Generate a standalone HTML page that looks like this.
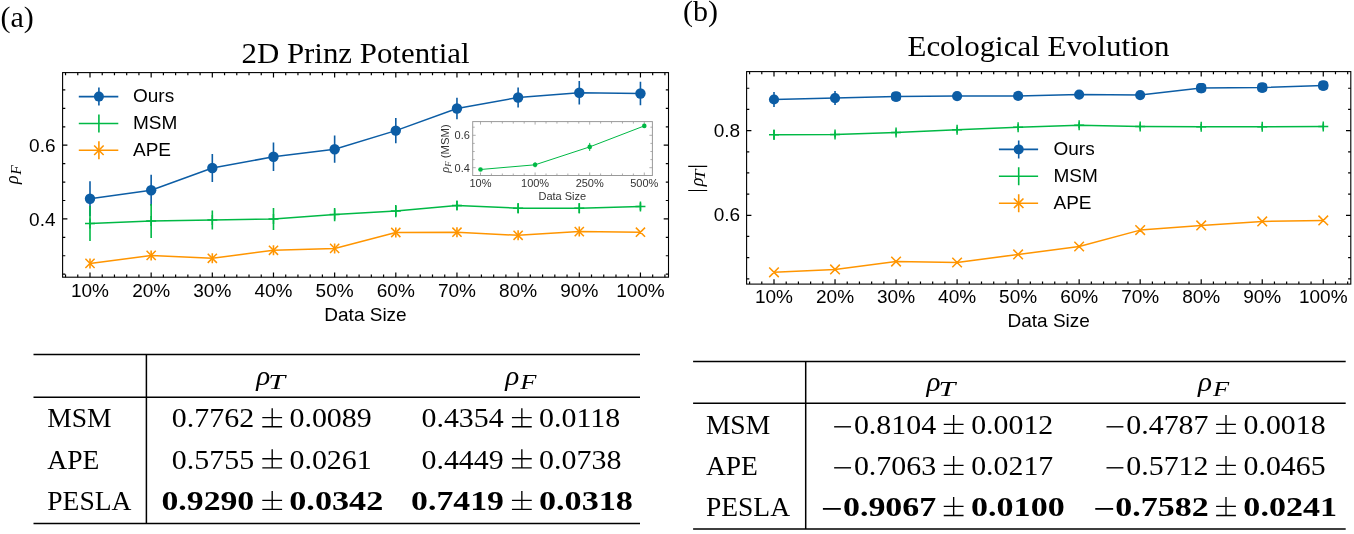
<!DOCTYPE html>
<html><head><meta charset="utf-8"><style>
html,body{margin:0;padding:0;background:#fff;width:1354px;height:534px;overflow:hidden}
svg{display:block;will-change:transform}
</style></head><body>
<svg width="1354" height="534" viewBox="0 0 1354 534">
<rect x="62.6" y="72.6" width="605.9" height="204.6" fill="none" stroke="#000" stroke-width="1.1"/>
<path d="M90 277.2v-4.8M90 72.6v4.8M151.16 277.2v-4.8M151.16 72.6v4.8M212.32 277.2v-4.8M212.32 72.6v4.8M273.48 277.2v-4.8M273.48 72.6v4.8M334.64 277.2v-4.8M334.64 72.6v4.8M395.8 277.2v-4.8M395.8 72.6v4.8M456.96 277.2v-4.8M456.96 72.6v4.8M518.12 277.2v-4.8M518.12 72.6v4.8M579.28 277.2v-4.8M579.28 72.6v4.8M640.44 277.2v-4.8M640.44 72.6v4.8M65.54 277.2v-2.7M65.54 72.6v2.7M77.77 277.2v-2.7M77.77 72.6v2.7M102.23 277.2v-2.7M102.23 72.6v2.7M114.46 277.2v-2.7M114.46 72.6v2.7M126.7 277.2v-2.7M126.7 72.6v2.7M138.93 277.2v-2.7M138.93 72.6v2.7M163.39 277.2v-2.7M163.39 72.6v2.7M175.62 277.2v-2.7M175.62 72.6v2.7M187.86 277.2v-2.7M187.86 72.6v2.7M200.09 277.2v-2.7M200.09 72.6v2.7M224.55 277.2v-2.7M224.55 72.6v2.7M236.78 277.2v-2.7M236.78 72.6v2.7M249.02 277.2v-2.7M249.02 72.6v2.7M261.25 277.2v-2.7M261.25 72.6v2.7M285.71 277.2v-2.7M285.71 72.6v2.7M297.94 277.2v-2.7M297.94 72.6v2.7M310.18 277.2v-2.7M310.18 72.6v2.7M322.41 277.2v-2.7M322.41 72.6v2.7M346.87 277.2v-2.7M346.87 72.6v2.7M359.1 277.2v-2.7M359.1 72.6v2.7M371.34 277.2v-2.7M371.34 72.6v2.7M383.57 277.2v-2.7M383.57 72.6v2.7M408.03 277.2v-2.7M408.03 72.6v2.7M420.26 277.2v-2.7M420.26 72.6v2.7M432.5 277.2v-2.7M432.5 72.6v2.7M444.73 277.2v-2.7M444.73 72.6v2.7M469.19 277.2v-2.7M469.19 72.6v2.7M481.42 277.2v-2.7M481.42 72.6v2.7M493.66 277.2v-2.7M493.66 72.6v2.7M505.89 277.2v-2.7M505.89 72.6v2.7M530.35 277.2v-2.7M530.35 72.6v2.7M542.58 277.2v-2.7M542.58 72.6v2.7M554.82 277.2v-2.7M554.82 72.6v2.7M567.05 277.2v-2.7M567.05 72.6v2.7M591.51 277.2v-2.7M591.51 72.6v2.7M603.74 277.2v-2.7M603.74 72.6v2.7M615.98 277.2v-2.7M615.98 72.6v2.7M628.21 277.2v-2.7M628.21 72.6v2.7M652.67 277.2v-2.7M652.67 72.6v2.7M664.9 277.2v-2.7M664.9 72.6v2.7M62.6 218.9h4.8M668.5 218.9h-4.8M62.6 145.2h4.8M668.5 145.2h-4.8M62.6 274.18h2.7M668.5 274.18h-2.7M62.6 255.75h2.7M668.5 255.75h-2.7M62.6 237.33h2.7M668.5 237.33h-2.7M62.6 200.48h2.7M668.5 200.48h-2.7M62.6 182.05h2.7M668.5 182.05h-2.7M62.6 163.62h2.7M668.5 163.62h-2.7M62.6 126.78h2.7M668.5 126.78h-2.7M62.6 108.35h2.7M668.5 108.35h-2.7M62.6 89.93h2.7M668.5 89.93h-2.7" stroke="#000" stroke-width="1.2" fill="none"/>
<polyline points="90,198.7 151.16,190.2 212.32,168 273.48,156.8 334.64,149.2 395.8,130.6 456.96,108.5 518.12,97.5 579.28,92.8 640.44,93.5" fill="none" stroke="#0C5DA5" stroke-width="1.5" stroke-linejoin="round"/>
<path d="M90 181.3V216.1M151.16 174.7V205.7M212.32 154V182M273.48 142.6V171M334.64 135.6V162.8M395.8 117.9V143.3M456.96 97.7V119.3M518.12 87.5V107.5M579.28 81V104.6M640.44 81.7V105.3" stroke="#0C5DA5" stroke-width="1.6" fill="none"/>
<circle cx="90" cy="198.7" r="5.2" fill="#0C5DA5"/>
<circle cx="151.16" cy="190.2" r="5.2" fill="#0C5DA5"/>
<circle cx="212.32" cy="168" r="5.2" fill="#0C5DA5"/>
<circle cx="273.48" cy="156.8" r="5.2" fill="#0C5DA5"/>
<circle cx="334.64" cy="149.2" r="5.2" fill="#0C5DA5"/>
<circle cx="395.8" cy="130.6" r="5.2" fill="#0C5DA5"/>
<circle cx="456.96" cy="108.5" r="5.2" fill="#0C5DA5"/>
<circle cx="518.12" cy="97.5" r="5.2" fill="#0C5DA5"/>
<circle cx="579.28" cy="92.8" r="5.2" fill="#0C5DA5"/>
<circle cx="640.44" cy="93.5" r="5.2" fill="#0C5DA5"/>
<polyline points="90,223.4 151.16,221 212.32,220 273.48,218.9 334.64,214.6 395.8,211.1 456.96,205.6 518.12,208.2 579.28,208.2 640.44,206.5" fill="none" stroke="#00B945" stroke-width="1.5" stroke-linejoin="round"/>
<path d="M90 205.9V240.9M151.16 204V238M212.32 210.5V229.5M273.48 207.9V229.9M334.64 208V221.2M395.8 204.9V217.3M456.96 201.1V210.1M518.12 203.2V213.2M579.28 203.2V213.2M640.44 202.8V210.2" stroke="#00B945" stroke-width="1.6" fill="none"/>
<path d="M85 223.4h10M90 218.4v10M146.16 221h10M151.16 216v10M207.32 220h10M212.32 215v10M268.48 218.9h10M273.48 213.9v10M329.64 214.6h10M334.64 209.6v10M390.8 211.1h10M395.8 206.1v10M451.96 205.6h10M456.96 200.6v10M513.12 208.2h10M518.12 203.2v10M574.28 208.2h10M579.28 203.2v10M635.44 206.5h10M640.44 201.5v10" stroke="#00B945" stroke-width="1.5" fill="none"/>
<polyline points="90,263.4 151.16,255.4 212.32,258.3 273.48,250.3 334.64,248.4 395.8,232.5 456.96,232.2 518.12,235.3 579.28,231.6 640.44,232.2" fill="none" stroke="#FF9500" stroke-width="1.5" stroke-linejoin="round"/>
<path d="M90 258.4V268.4M151.16 250.4V260.4M212.32 253.3V263.3M273.48 245.3V255.3M334.64 243.4V253.4M395.8 227.5V237.5M456.96 227.2V237.2M518.12 230.3V240.3M579.28 226.6V236.6" stroke="#FF9500" stroke-width="1.6" fill="none"/>
<path d="M85.4 258.8L94.6 268M85.4 268L94.6 258.8M146.56 250.8L155.76 260M146.56 260L155.76 250.8M207.72 253.7L216.92 262.9M207.72 262.9L216.92 253.7M268.88 245.7L278.08 254.9M268.88 254.9L278.08 245.7M330.04 243.8L339.24 253M330.04 253L339.24 243.8M391.2 227.9L400.4 237.1M391.2 237.1L400.4 227.9M452.36 227.6L461.56 236.8M452.36 236.8L461.56 227.6M513.52 230.7L522.72 239.9M513.52 239.9L522.72 230.7M574.68 227L583.88 236.2M574.68 236.2L583.88 227M635.84 227.6L645.04 236.8M635.84 236.8L645.04 227.6" stroke="#FF9500" stroke-width="1.5" fill="none"/>
<text x="90" y="297.4" text-anchor="middle" font-family='"Liberation Sans", sans-serif' font-size="19">10%</text>
<text x="151.16" y="297.4" text-anchor="middle" font-family='"Liberation Sans", sans-serif' font-size="19">20%</text>
<text x="212.32" y="297.4" text-anchor="middle" font-family='"Liberation Sans", sans-serif' font-size="19">30%</text>
<text x="273.48" y="297.4" text-anchor="middle" font-family='"Liberation Sans", sans-serif' font-size="19">40%</text>
<text x="334.64" y="297.4" text-anchor="middle" font-family='"Liberation Sans", sans-serif' font-size="19">50%</text>
<text x="395.8" y="297.4" text-anchor="middle" font-family='"Liberation Sans", sans-serif' font-size="19">60%</text>
<text x="456.96" y="297.4" text-anchor="middle" font-family='"Liberation Sans", sans-serif' font-size="19">70%</text>
<text x="518.12" y="297.4" text-anchor="middle" font-family='"Liberation Sans", sans-serif' font-size="19">80%</text>
<text x="579.28" y="297.4" text-anchor="middle" font-family='"Liberation Sans", sans-serif' font-size="19">90%</text>
<text x="640.44" y="297.4" text-anchor="middle" font-family='"Liberation Sans", sans-serif' font-size="19">100%</text>
<text x="55.5" y="152.2" text-anchor="end" font-family='"Liberation Sans", sans-serif' font-size="19">0.6</text>
<text x="55.5" y="225.9" text-anchor="end" font-family='"Liberation Sans", sans-serif' font-size="19">0.4</text>
<text x="365.5" y="320.8" text-anchor="middle" font-family='"Liberation Sans", sans-serif' font-size="19">Data Size</text>
<text transform="translate(17.6,184) rotate(-90)" font-family='"Liberation Serif", serif' font-style="italic" font-size="18">ρ</text>
<text transform="translate(21.1,174.8) rotate(-90)" font-family='"Liberation Serif", serif' font-style="italic" font-size="15.5">F</text>
<text x="241.5" y="62.9" textLength="228" lengthAdjust="spacingAndGlyphs" font-family='"Liberation Serif", serif' font-size="30">2D Prinz Potential</text>
<text x="0.5" y="26.5" font-family='"Liberation Serif", serif' font-size="30">(a)</text>
<path d="M78.8 96.6H118.3M98.9 87.6V105.6" stroke="#0C5DA5" stroke-width="1.6" fill="none"/>
<circle cx="98.9" cy="96.6" r="5.0" fill="#0C5DA5"/>
<text x="133" y="102.3" font-family='"Liberation Sans", sans-serif' font-size="19">Ours</text>
<path d="M78.8 123.5H118.3M98.9 114.5V132.5" stroke="#00B945" stroke-width="1.6" fill="none"/>
<text x="133" y="129.2" font-family='"Liberation Sans", sans-serif' font-size="19">MSM</text>
<path d="M78.8 150.2H118.3M98.9 141.2V159.2" stroke="#FF9500" stroke-width="1.6" fill="none"/>
<path d="M94.15 145.45L103.65 154.95M94.15 154.95L103.65 145.45" stroke="#FF9500" stroke-width="1.6" fill="none"/>
<text x="133" y="155.9" font-family='"Liberation Sans", sans-serif' font-size="19">APE</text>
<rect x="472.7" y="121.6" width="179.7" height="53.9" fill="#fff"/>
<rect x="472.7" y="121.6" width="179.7" height="53.9" fill="none" stroke="#999" stroke-width="1.0"/>
<path d="M480.5 175.5v-3M480.5 121.6v3M535.1 175.5v-3M535.1 121.6v3M589.7 175.5v-3M589.7 121.6v3M644.3 175.5v-3M644.3 121.6v3M491.42 175.5v-2M491.42 121.6v2M502.34 175.5v-2M502.34 121.6v2M513.26 175.5v-2M513.26 121.6v2M524.18 175.5v-2M524.18 121.6v2M546.02 175.5v-2M546.02 121.6v2M556.94 175.5v-2M556.94 121.6v2M567.86 175.5v-2M567.86 121.6v2M578.78 175.5v-2M578.78 121.6v2M600.62 175.5v-2M600.62 121.6v2M611.54 175.5v-2M611.54 121.6v2M622.46 175.5v-2M622.46 121.6v2M633.38 175.5v-2M633.38 121.6v2M472.7 167.7h3M652.4 167.7h-3M472.7 135.3h3M652.4 135.3h-3M472.7 159.6h2M652.4 159.6h-2M472.7 151.5h2M652.4 151.5h-2M472.7 143.4h2M652.4 143.4h-2M472.7 127.2h2M652.4 127.2h-2" stroke="#999" stroke-width="0.8" fill="none"/>
<polyline points="480.5,169.5 535.1,164.8 589.7,146.9 644.3,125.9" fill="none" stroke="#00B945" stroke-width="1.0" stroke-linejoin="round"/>
<path d="M535.1 162.3V167.3M589.7 142.9V150.9" stroke="#00B945" stroke-width="1.0" fill="none"/>
<circle cx="480.5" cy="169.5" r="2.3" fill="#00B945"/>
<circle cx="535.1" cy="164.8" r="2.3" fill="#00B945"/>
<circle cx="589.7" cy="146.9" r="2.3" fill="#00B945"/>
<circle cx="644.3" cy="125.9" r="2.3" fill="#00B945"/>
<text x="480.5" y="186.7" text-anchor="middle" font-family='"Liberation Sans", sans-serif' font-size="11" fill="#333">10%</text>
<text x="535.1" y="186.7" text-anchor="middle" font-family='"Liberation Sans", sans-serif' font-size="11" fill="#333">100%</text>
<text x="589.7" y="186.7" text-anchor="middle" font-family='"Liberation Sans", sans-serif' font-size="11" fill="#333">250%</text>
<text x="644.3" y="186.7" text-anchor="middle" font-family='"Liberation Sans", sans-serif' font-size="11" fill="#333">500%</text>
<text x="469.9" y="139.3" text-anchor="end" font-family='"Liberation Sans", sans-serif' font-size="11" fill="#333">0.6</text>
<text x="469.9" y="171.7" text-anchor="end" font-family='"Liberation Sans", sans-serif' font-size="11" fill="#333">0.4</text>
<text x="562.3" y="199.5" text-anchor="middle" font-family='"Liberation Sans", sans-serif' font-size="11" fill="#333">Data Size</text>
<g transform="translate(448.8,148.6) rotate(-90)"><text x="0" y="0" text-anchor="middle" font-family='"Liberation Sans", sans-serif' font-size="11.3" fill="#333"><tspan font-family='"Liberation Serif", serif' font-style="italic" font-size="12.5">ρ<tspan font-size="9" dy="2">F</tspan></tspan><tspan dy="-2"> (MSM)</tspan></text></g>
<rect x="746.6" y="71.6" width="604.2" height="212.5" fill="none" stroke="#000" stroke-width="1.1"/>
<path d="M774 284.1v-4.8M774 71.6v4.8M835.03 284.1v-4.8M835.03 71.6v4.8M896.06 284.1v-4.8M896.06 71.6v4.8M957.09 284.1v-4.8M957.09 71.6v4.8M1018.12 284.1v-4.8M1018.12 71.6v4.8M1079.15 284.1v-4.8M1079.15 71.6v4.8M1140.18 284.1v-4.8M1140.18 71.6v4.8M1201.21 284.1v-4.8M1201.21 71.6v4.8M1262.24 284.1v-4.8M1262.24 71.6v4.8M1323.27 284.1v-4.8M1323.27 71.6v4.8M749.59 284.1v-2.7M749.59 71.6v2.7M761.79 284.1v-2.7M761.79 71.6v2.7M786.21 284.1v-2.7M786.21 71.6v2.7M798.41 284.1v-2.7M798.41 71.6v2.7M810.62 284.1v-2.7M810.62 71.6v2.7M822.82 284.1v-2.7M822.82 71.6v2.7M847.24 284.1v-2.7M847.24 71.6v2.7M859.44 284.1v-2.7M859.44 71.6v2.7M871.65 284.1v-2.7M871.65 71.6v2.7M883.85 284.1v-2.7M883.85 71.6v2.7M908.27 284.1v-2.7M908.27 71.6v2.7M920.47 284.1v-2.7M920.47 71.6v2.7M932.68 284.1v-2.7M932.68 71.6v2.7M944.88 284.1v-2.7M944.88 71.6v2.7M969.3 284.1v-2.7M969.3 71.6v2.7M981.5 284.1v-2.7M981.5 71.6v2.7M993.71 284.1v-2.7M993.71 71.6v2.7M1005.91 284.1v-2.7M1005.91 71.6v2.7M1030.33 284.1v-2.7M1030.33 71.6v2.7M1042.53 284.1v-2.7M1042.53 71.6v2.7M1054.74 284.1v-2.7M1054.74 71.6v2.7M1066.94 284.1v-2.7M1066.94 71.6v2.7M1091.36 284.1v-2.7M1091.36 71.6v2.7M1103.56 284.1v-2.7M1103.56 71.6v2.7M1115.77 284.1v-2.7M1115.77 71.6v2.7M1127.97 284.1v-2.7M1127.97 71.6v2.7M1152.39 284.1v-2.7M1152.39 71.6v2.7M1164.59 284.1v-2.7M1164.59 71.6v2.7M1176.8 284.1v-2.7M1176.8 71.6v2.7M1189 284.1v-2.7M1189 71.6v2.7M1213.42 284.1v-2.7M1213.42 71.6v2.7M1225.62 284.1v-2.7M1225.62 71.6v2.7M1237.83 284.1v-2.7M1237.83 71.6v2.7M1250.03 284.1v-2.7M1250.03 71.6v2.7M1274.45 284.1v-2.7M1274.45 71.6v2.7M1286.65 284.1v-2.7M1286.65 71.6v2.7M1298.86 284.1v-2.7M1298.86 71.6v2.7M1311.06 284.1v-2.7M1311.06 71.6v2.7M1335.48 284.1v-2.7M1335.48 71.6v2.7M1347.68 284.1v-2.7M1347.68 71.6v2.7M746.6 215.3h4.8M1350.8 215.3h-4.8M746.6 130.6h4.8M1350.8 130.6h-4.8M746.6 278.82h2.7M1350.8 278.82h-2.7M746.6 257.65h2.7M1350.8 257.65h-2.7M746.6 236.47h2.7M1350.8 236.47h-2.7M746.6 194.12h2.7M1350.8 194.12h-2.7M746.6 172.95h2.7M1350.8 172.95h-2.7M746.6 151.78h2.7M1350.8 151.78h-2.7M746.6 109.43h2.7M1350.8 109.43h-2.7M746.6 88.25h2.7M1350.8 88.25h-2.7" stroke="#000" stroke-width="1.2" fill="none"/>
<polyline points="774,99.5 835.03,98.1 896.06,96.6 957.09,96.1 1018.12,95.9 1079.15,94.6 1140.18,95.1 1201.21,88.1 1262.24,87.6 1323.27,85.6" fill="none" stroke="#0C5DA5" stroke-width="1.5" stroke-linejoin="round"/>
<path d="M774 92V107M835.03 91.1V105.1M896.06 93.6V99.6M957.09 95.1V97.1M1018.12 94.9V96.9M1079.15 93.6V95.6M1140.18 94.1V96.1M1201.21 87.1V89.1M1262.24 86.6V88.6M1323.27 83.6V87.6" stroke="#0C5DA5" stroke-width="1.6" fill="none"/>
<circle cx="774" cy="99.5" r="5.1" fill="#0C5DA5"/>
<circle cx="835.03" cy="98.1" r="5.1" fill="#0C5DA5"/>
<circle cx="896.06" cy="96.6" r="5.1" fill="#0C5DA5"/>
<circle cx="957.09" cy="96.1" r="5.1" fill="#0C5DA5"/>
<circle cx="1018.12" cy="95.9" r="5.1" fill="#0C5DA5"/>
<circle cx="1079.15" cy="94.6" r="5.1" fill="#0C5DA5"/>
<circle cx="1140.18" cy="95.1" r="5.1" fill="#0C5DA5"/>
<circle cx="1201.21" cy="88.1" r="5.1" fill="#0C5DA5"/>
<circle cx="1262.24" cy="87.6" r="5.1" fill="#0C5DA5"/>
<circle cx="1323.27" cy="85.6" r="5.1" fill="#0C5DA5"/>
<polyline points="896.06,96.6" fill="none" stroke="#0C5DA5" stroke-width="1.5" stroke-linejoin="round"/>
<rect x="890.96" y="91.5" width="10.2" height="10.2" rx="4.1" fill="#0C5DA5"/>
<polyline points="1201.21,88.1" fill="none" stroke="#0C5DA5" stroke-width="1.5" stroke-linejoin="round"/>
<rect x="1196.11" y="83" width="10.2" height="10.2" rx="4.1" fill="#0C5DA5"/>
<polyline points="1262.24,87.6" fill="none" stroke="#0C5DA5" stroke-width="1.5" stroke-linejoin="round"/>
<rect x="1257.14" y="82.5" width="10.2" height="10.2" rx="4.1" fill="#0C5DA5"/>
<polyline points="1323.27,85.6" fill="none" stroke="#0C5DA5" stroke-width="1.5" stroke-linejoin="round"/>
<rect x="1318.17" y="80.5" width="10.2" height="10.2" rx="4.1" fill="#0C5DA5"/>
<polyline points="774,134.7 835.03,134.5 896.06,132.5 957.09,129.8 1018.12,127.2 1079.15,125.2 1140.18,126.5 1201.21,126.8 1262.24,126.8 1323.27,126.6" fill="none" stroke="#00B945" stroke-width="1.5" stroke-linejoin="round"/>
<path d="M774 129.7V139.7M835.03 131.5V137.5M896.06 129.5V135.5M957.09 126.8V132.8M1018.12 124.2V130.2M1079.15 122.2V128.2M1140.18 123.5V129.5M1201.21 123.8V129.8M1262.24 123.8V129.8M1323.27 123.6V129.6" stroke="#00B945" stroke-width="1.6" fill="none"/>
<path d="M769 134.7h10M774 129.7v10M830.03 134.5h10M835.03 129.5v10M891.06 132.5h10M896.06 127.5v10M952.09 129.8h10M957.09 124.8v10M1013.12 127.2h10M1018.12 122.2v10M1074.15 125.2h10M1079.15 120.2v10M1135.18 126.5h10M1140.18 121.5v10M1196.21 126.8h10M1201.21 121.8v10M1257.24 126.8h10M1262.24 121.8v10M1318.27 126.6h10M1323.27 121.6v10" stroke="#00B945" stroke-width="1.5" fill="none"/>
<polyline points="774,272.3 835.03,269.4 896.06,261.6 957.09,262.5 1018.12,254.4 1079.15,246.5 1140.18,230.1 1201.21,225.4 1262.24,221.4 1323.27,220.4" fill="none" stroke="#FF9500" stroke-width="1.5" stroke-linejoin="round"/>
<path d="M769.2 267.5L778.8 277.1M769.2 277.1L778.8 267.5M830.23 264.6L839.83 274.2M830.23 274.2L839.83 264.6M891.26 256.8L900.86 266.4M891.26 266.4L900.86 256.8M952.29 257.7L961.89 267.3M952.29 267.3L961.89 257.7M1013.32 249.6L1022.92 259.2M1013.32 259.2L1022.92 249.6M1074.35 241.7L1083.95 251.3M1074.35 251.3L1083.95 241.7M1135.38 225.3L1144.98 234.9M1135.38 234.9L1144.98 225.3M1196.41 220.6L1206.01 230.2M1196.41 230.2L1206.01 220.6M1257.44 216.6L1267.04 226.2M1257.44 226.2L1267.04 216.6M1318.47 215.6L1328.07 225.2M1318.47 225.2L1328.07 215.6" stroke="#FF9500" stroke-width="1.5" fill="none"/>
<text x="774" y="303.4" text-anchor="middle" font-family='"Liberation Sans", sans-serif' font-size="19">10%</text>
<text x="835.03" y="303.4" text-anchor="middle" font-family='"Liberation Sans", sans-serif' font-size="19">20%</text>
<text x="896.06" y="303.4" text-anchor="middle" font-family='"Liberation Sans", sans-serif' font-size="19">30%</text>
<text x="957.09" y="303.4" text-anchor="middle" font-family='"Liberation Sans", sans-serif' font-size="19">40%</text>
<text x="1018.12" y="303.4" text-anchor="middle" font-family='"Liberation Sans", sans-serif' font-size="19">50%</text>
<text x="1079.15" y="303.4" text-anchor="middle" font-family='"Liberation Sans", sans-serif' font-size="19">60%</text>
<text x="1140.18" y="303.4" text-anchor="middle" font-family='"Liberation Sans", sans-serif' font-size="19">70%</text>
<text x="1201.21" y="303.4" text-anchor="middle" font-family='"Liberation Sans", sans-serif' font-size="19">80%</text>
<text x="1262.24" y="303.4" text-anchor="middle" font-family='"Liberation Sans", sans-serif' font-size="19">90%</text>
<text x="1323.27" y="303.4" text-anchor="middle" font-family='"Liberation Sans", sans-serif' font-size="19">100%</text>
<text x="740.2" y="136.6" text-anchor="end" font-family='"Liberation Sans", sans-serif' font-size="19">0.8</text>
<text x="740.2" y="221.3" text-anchor="end" font-family='"Liberation Sans", sans-serif' font-size="19">0.6</text>
<text x="1048.7" y="326.8" text-anchor="middle" font-family='"Liberation Sans", sans-serif' font-size="19">Data Size</text>
<path d="M688.2 166.4H707.2M688.2 190.5H707.2" stroke="#000" stroke-width="1.2" fill="none"/>
<text transform="translate(702.7,186.3) rotate(-90)" font-family='"Liberation Serif", serif' font-style="italic" font-size="18">ρ</text>
<text transform="translate(705.3,179.9) rotate(-90) scale(1.25,1)" font-family='"Liberation Serif", serif' font-style="italic" font-size="15">T</text>
<text x="907.5" y="55.5" textLength="262" lengthAdjust="spacingAndGlyphs" font-family='"Liberation Serif", serif' font-size="30">Ecological Evolution</text>
<text x="683" y="21.3" font-family='"Liberation Serif", serif' font-size="30">(b)</text>
<path d="M998.9 149.4H1038.1M1018.7 140.4V158.4" stroke="#0C5DA5" stroke-width="1.6" fill="none"/>
<circle cx="1018.7" cy="149.4" r="5.0" fill="#0C5DA5"/>
<text x="1053.5" y="155.1" font-family='"Liberation Sans", sans-serif' font-size="19">Ours</text>
<path d="M998.9 176.3H1038.1M1018.7 167.3V185.3" stroke="#00B945" stroke-width="1.6" fill="none"/>
<text x="1053.5" y="182" font-family='"Liberation Sans", sans-serif' font-size="19">MSM</text>
<path d="M998.9 203.3H1038.1M1018.7 194.3V212.3" stroke="#FF9500" stroke-width="1.6" fill="none"/>
<path d="M1013.95 198.55L1023.45 208.05M1013.95 208.05L1023.45 198.55" stroke="#FF9500" stroke-width="1.6" fill="none"/>
<text x="1053.5" y="209" font-family='"Liberation Sans", sans-serif' font-size="19">APE</text>
<path d="M33.5 354.5H640M33.5 397.2H640M33.5 523.4H640M146.4 354.5V523.4" stroke="#000" stroke-width="1.5" fill="none"/>
<text transform="translate(47.28,427.4) scale(1.02,1)" font-family='"Liberation Serif", serif' font-size="27">MSM</text>
<text transform="translate(47.28,468.5) scale(1.02,1)" font-family='"Liberation Serif", serif' font-size="27">APE</text>
<text transform="translate(47.28,510.1) scale(1.02,1)" font-family='"Liberation Serif", serif' font-size="27">PESLA</text>
<text transform="translate(256.2,384.9) scale(1.08,1)" font-family='"Liberation Serif", serif' font-style="italic" font-size="27">ρ</text>
<text transform="translate(268.22,388.9) scale(1.44,1)" font-family='"Liberation Serif", serif' font-style="italic" font-size="21">T</text>
<text transform="translate(505.2,384.9) scale(1.08,1)" font-family='"Liberation Serif", serif' font-style="italic" font-size="27">ρ</text>
<text transform="translate(520.2,388.9) scale(1.26,1)" font-family='"Liberation Serif", serif' font-style="italic" font-size="21">F</text>
<text transform="translate(171.81,427.4) scale(1.0884,1)" font-family='"Liberation Serif", serif' font-size="27.5">0.7762</text>
<text transform="translate(289.41,427.4) scale(1.0898,1)" font-family='"Liberation Serif", serif' font-size="27.5">0.0089</text>
<path d="M262.3 417.6H282.1M262.3 426.7H282.1M272.2 408.2V426.7" stroke="#000" stroke-width="1.35" fill="none"/>
<text transform="translate(421.46,427.4) scale(1.0884,1)" font-family='"Liberation Serif", serif' font-size="27.5">0.4354</text>
<text transform="translate(539.06,427.4) scale(1.0898,1)" font-family='"Liberation Serif", serif' font-size="27.5">0.0118</text>
<path d="M511.95 417.6H531.75M511.95 426.7H531.75M521.85 408.2V426.7" stroke="#000" stroke-width="1.35" fill="none"/>
<text transform="translate(171.81,468.5) scale(1.0884,1)" font-family='"Liberation Serif", serif' font-size="27.5">0.5755</text>
<text transform="translate(289.41,468.5) scale(1.0898,1)" font-family='"Liberation Serif", serif' font-size="27.5">0.0261</text>
<path d="M262.3 458.7H282.1M262.3 467.8H282.1M272.2 449.3V467.8" stroke="#000" stroke-width="1.35" fill="none"/>
<text transform="translate(421.46,468.5) scale(1.0884,1)" font-family='"Liberation Serif", serif' font-size="27.5">0.4449</text>
<text transform="translate(539.06,468.5) scale(1.0898,1)" font-family='"Liberation Serif", serif' font-size="27.5">0.0738</text>
<path d="M511.95 458.7H531.75M511.95 467.8H531.75M521.85 449.3V467.8" stroke="#000" stroke-width="1.35" fill="none"/>
<text transform="translate(161.47,510.1) scale(1.2272,1)" font-family='"Liberation Serif", serif' font-size="27.5" font-weight="bold">0.9290</text>
<text transform="translate(289.26,510.1) scale(1.2435,1)" font-family='"Liberation Serif", serif' font-size="27.5" font-weight="bold">0.0342</text>
<path d="M262.3 500.3H282.1M262.3 509.4H282.1M272.2 490.9V509.4" stroke="#000" stroke-width="1.35" fill="none"/>
<text transform="translate(411.12,510.1) scale(1.2272,1)" font-family='"Liberation Serif", serif' font-size="27.5" font-weight="bold">0.7419</text>
<text transform="translate(538.91,510.1) scale(1.2435,1)" font-family='"Liberation Serif", serif' font-size="27.5" font-weight="bold">0.0318</text>
<path d="M511.95 500.3H531.75M511.95 509.4H531.75M521.85 490.9V509.4" stroke="#000" stroke-width="1.35" fill="none"/>
<path d="M693.1 361.4H1345.7M693.1 403.2H1345.7M693.1 529.1H1345.7M805.7 361.4V529.1" stroke="#000" stroke-width="1.5" fill="none"/>
<text transform="translate(705.88,434.1) scale(1.02,1)" font-family='"Liberation Serif", serif' font-size="27">MSM</text>
<text transform="translate(705.88,475.1) scale(1.02,1)" font-family='"Liberation Serif", serif' font-size="27">APE</text>
<text transform="translate(705.88,516.2) scale(1.02,1)" font-family='"Liberation Serif", serif' font-size="27">PESLA</text>
<text transform="translate(926.5,391.2) scale(1.08,1)" font-family='"Liberation Serif", serif' font-style="italic" font-size="27">ρ</text>
<text transform="translate(938.52,395.6) scale(1.44,1)" font-family='"Liberation Serif", serif' font-style="italic" font-size="21">T</text>
<text transform="translate(1198,391.2) scale(1.08,1)" font-family='"Liberation Serif", serif' font-style="italic" font-size="27">ρ</text>
<text transform="translate(1213,395.6) scale(1.26,1)" font-family='"Liberation Serif", serif' font-style="italic" font-size="21">F</text>
<text transform="translate(853.91,434.1) scale(1.0878,1)" font-family='"Liberation Serif", serif' font-size="27.5">0.8104</text>
<text transform="translate(971.16,434.1) scale(1.0857,1)" font-family='"Liberation Serif", serif' font-size="27.5">0.0012</text>
<path d="M834.15 426.8H851.05" stroke="#000" stroke-width="1.4" fill="none"/>
<path d="M943.75 424.3H963.55M943.75 433.4H963.55M953.65 414.9V433.4" stroke="#000" stroke-width="1.35" fill="none"/>
<text transform="translate(1126.26,434.1) scale(1.0878,1)" font-family='"Liberation Serif", serif' font-size="27.5">0.4787</text>
<text transform="translate(1243.51,434.1) scale(1.0857,1)" font-family='"Liberation Serif", serif' font-size="27.5">0.0018</text>
<path d="M1106.5 426.8H1123.4" stroke="#000" stroke-width="1.4" fill="none"/>
<path d="M1216.1 424.3H1235.9M1216.1 433.4H1235.9M1226 414.9V433.4" stroke="#000" stroke-width="1.35" fill="none"/>
<text transform="translate(853.91,475.1) scale(1.0878,1)" font-family='"Liberation Serif", serif' font-size="27.5">0.7063</text>
<text transform="translate(971.16,475.1) scale(1.0857,1)" font-family='"Liberation Serif", serif' font-size="27.5">0.0217</text>
<path d="M834.15 467.8H851.05" stroke="#000" stroke-width="1.4" fill="none"/>
<path d="M943.75 465.3H963.55M943.75 474.4H963.55M953.65 455.9V474.4" stroke="#000" stroke-width="1.35" fill="none"/>
<text transform="translate(1126.26,475.1) scale(1.0878,1)" font-family='"Liberation Serif", serif' font-size="27.5">0.5712</text>
<text transform="translate(1243.51,475.1) scale(1.0857,1)" font-family='"Liberation Serif", serif' font-size="27.5">0.0465</text>
<path d="M1106.5 467.8H1123.4" stroke="#000" stroke-width="1.4" fill="none"/>
<path d="M1216.1 465.3H1235.9M1216.1 474.4H1235.9M1226 455.9V474.4" stroke="#000" stroke-width="1.35" fill="none"/>
<text transform="translate(842.91,516.2) scale(1.2354,1)" font-family='"Liberation Serif", serif' font-size="27.5" font-weight="bold">0.9067</text>
<text transform="translate(971.01,516.2) scale(1.2395,1)" font-family='"Liberation Serif", serif' font-size="27.5" font-weight="bold">0.0100</text>
<path d="M822.9 508.9H840.8" stroke="#000" stroke-width="1.8" fill="none"/>
<path d="M943.75 506.4H963.55M943.75 515.5H963.55M953.65 497V515.5" stroke="#000" stroke-width="1.35" fill="none"/>
<text transform="translate(1115.26,516.2) scale(1.2354,1)" font-family='"Liberation Serif", serif' font-size="27.5" font-weight="bold">0.7582</text>
<text transform="translate(1243.36,516.2) scale(1.2395,1)" font-family='"Liberation Serif", serif' font-size="27.5" font-weight="bold">0.0241</text>
<path d="M1095.25 508.9H1113.15" stroke="#000" stroke-width="1.8" fill="none"/>
<path d="M1216.1 506.4H1235.9M1216.1 515.5H1235.9M1226 497V515.5" stroke="#000" stroke-width="1.35" fill="none"/>
</svg>
</body></html>
